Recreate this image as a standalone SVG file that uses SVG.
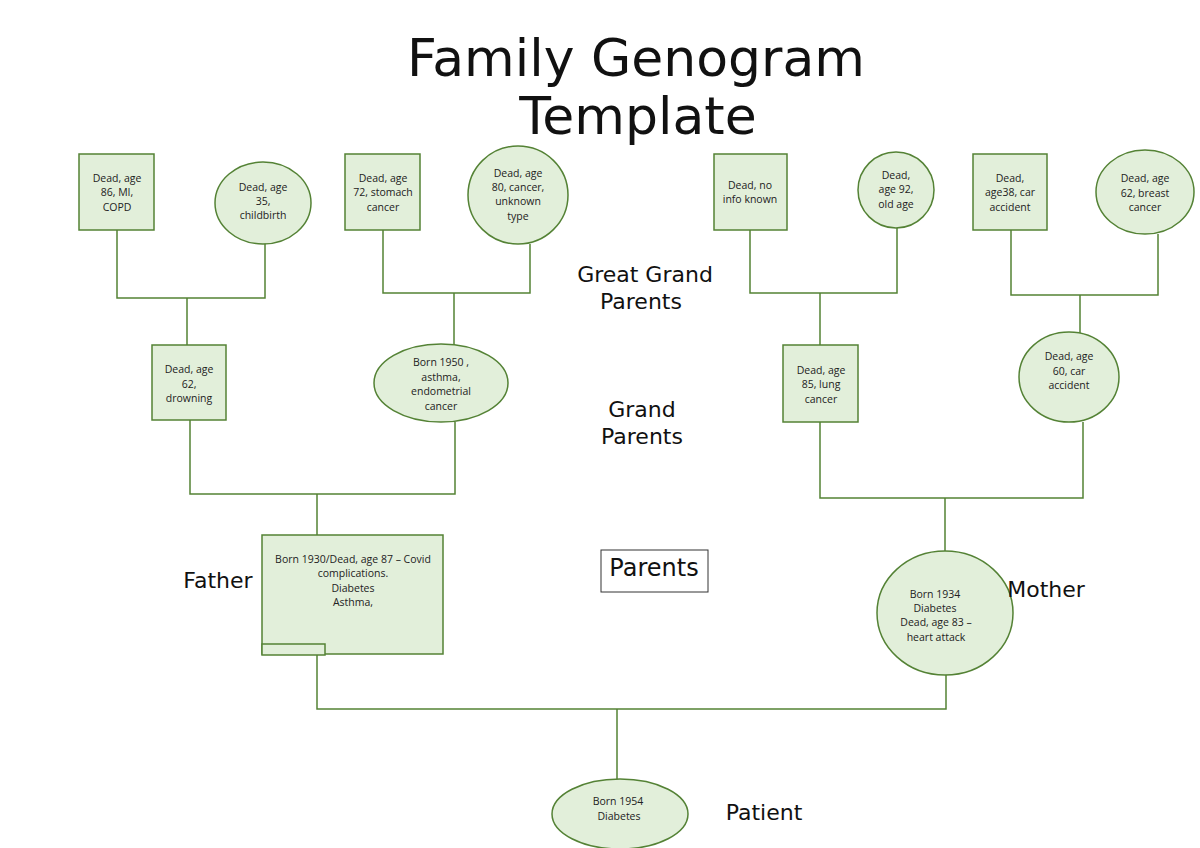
<svg xmlns="http://www.w3.org/2000/svg" width="1200" height="848" viewBox="0 0 1200 848">
<style>
.n{fill:#e2efda;stroke:#548235;stroke-width:1.5}
.c{fill:none;stroke:#548235;stroke-width:1.5}
.t{font-family:"Open Sans","Liberation Sans",sans-serif;font-size:10.5px;fill:#222;text-anchor:middle}
.l{font-family:"DejaVu Sans",sans-serif;font-size:22px;fill:#111;text-anchor:middle}
</style>
<rect width="1200" height="848" fill="#fff"/>
<text class="l" x="636" y="76" style="font-size:52px">Family Genogram</text>
<text class="l" x="638" y="134" style="font-size:52px">Template</text>
<g id="connectors">
<path class="c" d="M117 230V298H265V243M187 298V345"/>
<path class="c" d="M383 230V293H530V244M454 293V344"/>
<path class="c" d="M750 230V293H897V228M820 293V345"/>
<path class="c" d="M1011 230V295H1158V234M1080 295V333"/>
<path class="c" d="M190 420V494H455V422M317 494V535"/>
<path class="c" d="M820 422V498H1083V422M945 498V551"/>
<path class="c" d="M317 655V709H946V675M617 709V781"/>
</g>
<g id="n1"><rect class="n" x="79" y="154" width="75" height="76"/><text class="t" x="117" y="182">Dead, age</text><text class="t" x="117" y="196">86, MI,</text><text class="t" x="117" y="211">COPD</text></g>
<g id="n2"><ellipse class="n" cx="263" cy="203" rx="48" ry="41"/><text class="t" x="263" y="191">Dead, age</text><text class="t" x="263" y="205">35,</text><text class="t" x="263" y="219">childbirth</text></g>
<g id="n3"><rect class="n" x="345" y="154" width="75" height="76"/><text class="t" x="383" y="182">Dead, age</text><text class="t" x="383" y="196">72, stomach</text><text class="t" x="383" y="211">cancer</text></g>
<g id="n4"><ellipse class="n" cx="518" cy="195" rx="50" ry="49"/><text class="t" x="518" y="177">Dead, age</text><text class="t" x="518" y="191">80, cancer,</text><text class="t" x="518" y="205">unknown</text><text class="t" x="518" y="220">type</text></g>
<g id="n5"><rect class="n" x="714" y="154" width="73" height="76"/><text class="t" x="750" y="189">Dead, no</text><text class="t" x="750" y="203">info known</text></g>
<g id="n6"><ellipse class="n" cx="896" cy="190" rx="38" ry="38"/><text class="t" x="896" y="179">Dead,</text><text class="t" x="896" y="193">age 92,</text><text class="t" x="896" y="208">old age</text></g>
<g id="n7"><rect class="n" x="973" y="154" width="74" height="76"/><text class="t" x="1010" y="182">Dead,</text><text class="t" x="1010" y="196">age38, car</text><text class="t" x="1010" y="211">accident</text></g>
<g id="n8"><ellipse class="n" cx="1145" cy="192" rx="49" ry="42"/><text class="t" x="1145" y="182">Dead, age</text><text class="t" x="1145" y="197">62, breast</text><text class="t" x="1145" y="211">cancer</text></g>
<g id="n9"><rect class="n" x="152" y="345" width="74" height="75"/><text class="t" x="189" y="373">Dead, age</text><text class="t" x="189" y="388">62,</text><text class="t" x="189" y="402">drowning</text></g>
<g id="n10"><ellipse class="n" cx="441" cy="383" rx="67" ry="39"/><text class="t" x="441" y="366">Born 1950 ,</text><text class="t" x="441" y="381">asthma,</text><text class="t" x="441" y="395">endometrial</text><text class="t" x="441" y="410">cancer</text></g>
<g id="n11"><rect class="n" x="783" y="345" width="75" height="77"/><text class="t" x="821" y="374">Dead, age</text><text class="t" x="821" y="388">85, lung</text><text class="t" x="821" y="403">cancer</text></g>
<g id="n12"><ellipse class="n" cx="1069" cy="377" rx="50" ry="45"/><text class="t" x="1069" y="360">Dead, age</text><text class="t" x="1069" y="375">60, car</text><text class="t" x="1069" y="389">accident</text></g>
<g id="father"><rect class="n" x="262" y="535" width="181" height="119"/><rect class="n" x="262" y="644" width="63" height="11"/><text class="t" x="353" y="563">Born 1930/Dead, age 87 – Covid</text><text class="t" x="353" y="577">complications.</text><text class="t" x="353" y="592">Diabetes</text><text class="t" x="353" y="606">Asthma,</text></g>
<g id="mother"><ellipse class="n" cx="945" cy="613" rx="68" ry="62"/><text class="t" x="935" y="598">Born 1934</text><text class="t" x="935" y="612">Diabetes</text><text class="t" x="936" y="626">Dead, age 83 –</text><text class="t" x="936" y="641">heart attack</text></g>
<g id="patient"><ellipse class="n" cx="620" cy="814" rx="68" ry="35"/><text class="t" x="618" y="805">Born 1954</text><text class="t" x="619" y="820">Diabetes</text></g>
<g id="labels">
<text class="l" x="645" y="282">Great Grand</text><text class="l" x="641" y="309">Parents</text>
<text class="l" x="642" y="417">Grand</text><text class="l" x="642" y="444">Parents</text>
<rect x="601" y="550" width="107" height="42" fill="#fff" stroke="#333" stroke-width="1"/>
<text class="l" x="654" y="576" style="font-size:24px">Parents</text>
<text class="l" x="218" y="588">Father</text>
<text class="l" x="1046" y="597">Mother</text>
<text class="l" x="764" y="820">Patient</text>
</g>
</svg>
